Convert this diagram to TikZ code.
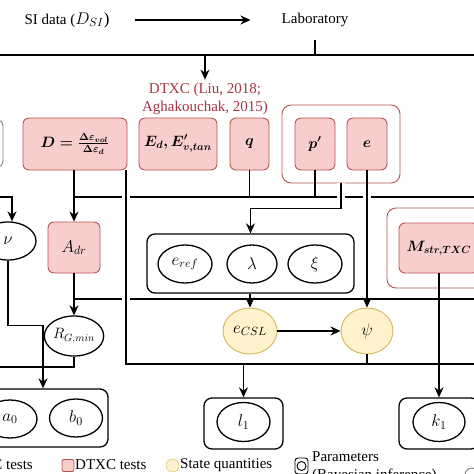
\RequirePackage{fix-cm}
\documentclass[tikz,border=0pt]{standalone}
\usepackage{amsmath}
\usepackage{fontspec}
\setmainfont{Liberation Serif}
\usepackage{xcolor}
\usepackage{tikz}
\usetikzlibrary{shapes,arrows,arrows.meta,positioning,fit,backgrounds}
\definecolor{dtxcfill}{HTML}{F8CECC}
\definecolor{dtxcline}{HTML}{B85450}
\definecolor{statefill}{HTML}{FFF2CC}
\definecolor{stateline}{HTML}{D6B656}
\definecolor{dtxctext}{HTML}{A8343F}
\tikzstyle{wire} = [draw, line width=1.4pt]
\tikzstyle{link} = [draw, line width=1.4pt, -{Stealth[length=10pt,width=9pt]}]
\tikzset{
    every node/.style={font=\fontsize{15}{18}\selectfont}
}

\begin{document}
\begin{tikzpicture}[x=1pt,y=-1pt]
            % Define styles for boxes and ellipses
            \tikzstyle{dtxc} = [rectangle, rounded corners=6pt, draw=dtxcline,
                fill=dtxcfill, line width=0.9pt, inner sep=0pt]
            \tikzstyle{frame} = [rectangle, rounded corners=8pt, draw,
                line width=1.3pt, inner sep=0pt]
            \tikzstyle{dframe} = [rectangle, rounded corners=9pt, draw=dtxcline,
                line width=0.9pt, inner sep=0pt]
            \tikzstyle{param} = [ellipse, draw, line width=1.3pt, font=\fontsize{17}{20}\selectfont,
                minimum width=54pt, minimum height=38pt, inner sep=0pt]
            \tikzstyle{state} = [ellipse, draw=stateline, fill=statefill, font=\fontsize{17}{20}\selectfont,
                line width=0.9pt, minimum width=54pt, minimum height=46pt, inner sep=0pt]
            \tikzstyle{hop} = [preaction={draw=white, line width=8pt}]
            \useasboundingbox (0,0) rectangle (474,474);

            % Header
            \node[minimum height=40pt, inner sep=0pt] (si) at (67,20) {SI data (\fontsize{17}{20}\selectfont$D_{SI}$)};
            \node[minimum height=40pt, inner sep=0pt] (lab) at (315,20) {Laboratory};
            \draw[link, shorten <=25pt, shorten >=31pt] (si) -- (lab);
            \coordinate (topL) at (-5,55);
            \coordinate (topR) at (480,55);
            \draw[wire] (topL) -- (topR);
            \draw[wire] (lab.south) -- (lab |- topR);
            \node[text=dtxctext, align=center] (title) at (205,99) {DTXC (Liu, 2018;\\Aghakouchak, 2015)};
            \draw[link] (title |- topR) -- (title.north);

            % First row of DTXC tests
            \node[dtxc, minimum width=63pt, minimum height=47pt, draw=gray, fill=white] (txc) at (-28.5,143.5) {};
            \node[dtxc, minimum width=104pt, minimum height=52pt] (dbox) at (75,144) {$\boldsymbol{D=\frac{\Delta\varepsilon_{vol}}{\Delta\varepsilon_{d}}}$};
            \node[dtxc, minimum width=78pt, minimum height=52pt] (ebox) at (178,144) {$\boldsymbol{E_d, E'_{v,tan}}$};
            \node[dtxc, minimum width=39pt, minimum height=52pt] (qbox) at (249.5,144) {$\boldsymbol{q}$};
            \node[dframe, minimum width=118pt, minimum height=78pt] (pe) at (341,144) {};
            \node[dtxc, minimum width=40pt, minimum height=52pt] (pbox) at (315,144) {$\boldsymbol{p'}$};
            \node[dtxc, minimum width=40pt, minimum height=52pt] (vbox) at (367,144) {$\boldsymbol{e}$};

            % Second row
            \node[param, minimum width=56pt] (nu) at (8,241) {$\nu$};
            \node[dtxc, minimum width=52pt, minimum height=51pt, font=\fontsize{17}{20}\selectfont] (adr) at (74,247.5) {$A_{dr}$};
            \node[param, minimum width=52pt, minimum height=40pt, font=\fontsize{15}{18}\selectfont] (rg) at (74,336) {$R_{G,min}$};
            \node[frame, minimum width=207pt, minimum height=59pt] (lam) at (250.5,263.5) {};
            \node[param] (eref) at (185,264) {$e_{ref}$};
            \node[param, minimum width=50pt] (lambda) at (252,264) {$\lambda$};
            \node[param] (xi) at (315,264) {$\xi$};
            \node[dframe, minimum width=104pt, minimum height=80pt] (mgrp) at (439,248) {};
            \node[dtxc, minimum width=80pt, minimum height=50pt] (mstr) at (439,248) {$\boldsymbol{M_{str,TXC}}$};

            % State quantities
            \node[state] (ecsl) at (250,331) {$e_{CSL}$};
            \node[state, minimum width=52pt] (psi) at (367,331) {$\psi$};

            % Parameter groups
            \node[frame, minimum width=130pt, minimum height=58pt] (ab) at (43,418) {};
            \node[param] (a0) at (10,419) {$a_0$};
            \node[param, minimum width=53pt] (b0) at (76,418) {$b_0$};
            \node[frame, minimum width=79pt, minimum height=51pt] (lgrp) at (243.5,423.5) {};
            \node[param, minimum width=53pt, minimum height=39pt] (l1) at (243.5,422) {$l_1$};
            \node[frame, minimum width=80pt, minimum height=51pt] (kgrp) at (439,423.5) {};
            \node[param, minimum width=52pt, minimum height=39pt] (k1) at (439,422) {$k_1$};

            % Buses
            \coordinate (bus1) at (74,197);
            \coordinate (bus1R) at (480,197);
            \coordinate (bus2) at (74,299);
            \coordinate (bus2R) at (480,299);
            \coordinate (vtop) at (126,170);
            \coordinate (bus3) at (126,364);
            \coordinate (bus3R) at (480,364);
            \coordinate (hopa) at (367,192);
            \coordinate (hopb) at (367,202);
            \draw[wire] (bus1) -- (bus1R);
            \draw[wire] (bus2) -- (bus2R);
            \draw[wire, hop] (vtop) -- (bus3) -- (bus3R);
            \draw[link, hop] (pe.south) -- ++(0,25) -| (lam.north);
            \draw[draw=white, line width=8pt] (hopa) -- (hopb);

            % Connections
            \draw[link] (dbox.south -| adr) -- (adr.north);
            \draw[wire] (qbox.south) -- (qbox |- bus1);
            \draw[wire] (pbox.south) -- (pbox |- bus1);
            \draw[link] (vbox.south) -- (psi.north);
            \coordinate (nuin) at (-5,197);
            \draw[link] (nuin) -| ([xshift=4pt]nu.north);
            \draw[link] (nu.south) -- ++(0,65) -| (ab.north);
            \draw[link] (adr.south) -- (rg.north);
            \coordinate (rgout) at (-5,367);
            \draw[wire] (rg.south) |- (rgout);
            \draw[link] (lam.south -| ecsl) -- (ecsl.north);
            \draw[link] (ecsl) -- (psi);
            \draw[wire] (psi.south) -- (psi |- bus3);
            \draw[link] (lgrp |- bus3) -- (lgrp.north);
            \draw[link] (mstr.south) -- (kgrp.north);

            % Legend
            \node[anchor=east, inner sep=0pt] (legtxc) at (33,465) {TXC tests};
            \node[dtxc, minimum size=12pt, rounded corners=2pt] (legd) at (68,465.5) {};
            \node[anchor=west, inner sep=0pt] (legdt) at (75,465) {DTXC tests};
            \node[circle, draw=stateline, fill=statefill, minimum size=13pt, inner sep=0pt] (legs) at (172.5,465.5) {};
            \node[anchor=west, inner sep=0pt] (legst) at (180,465) {State quantities};
            \node[frame, rounded corners=3pt, minimum width=13pt, minimum height=16pt, line width=0.9pt] (legp) at (301.5,466) {};
            \node[circle, draw, line width=0.9pt, minimum size=9pt, inner sep=0pt] (legpc) at (legp) {};
            \node[anchor=base west, inner sep=0pt] (legpt) at (312,461) {Parameters};
            \node[anchor=base west, inner sep=0pt] (legpb) at (312,479) {(Bayesian inference)};
            \node[circle, draw=gray, line width=0.9pt, minimum size=14pt, inner sep=0pt] (legx) at (472,475) {};
\end{tikzpicture}
\end{document}
